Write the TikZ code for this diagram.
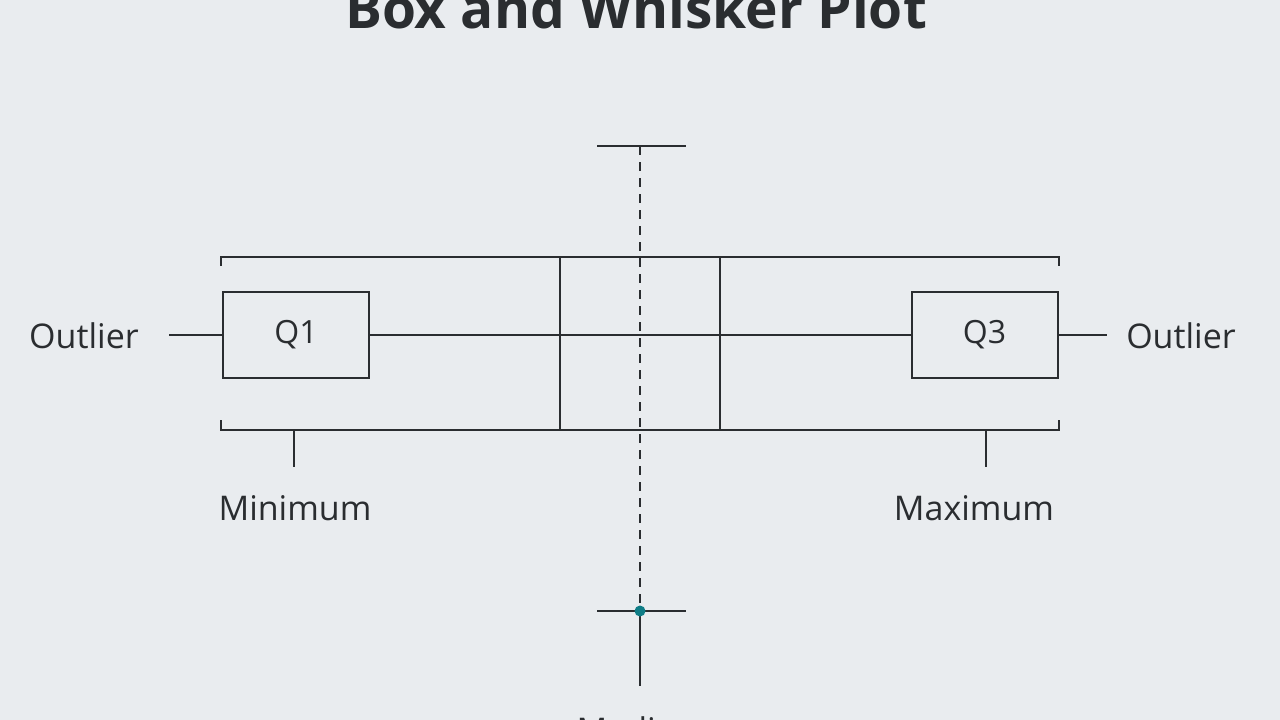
\documentclass[tikz,border=0pt]{standalone}
\usepackage{fontspec}
\setmainfont{Open Sans}
\definecolor{bg}{HTML}{E9ECEF}
\definecolor{ink}{HTML}{2A2D30}
\definecolor{teal}{HTML}{0E7C86}
\begin{document}
\begin{tikzpicture}[x=1pt,y=-1pt,
  ln/.style={draw=ink,line width=1.6pt},
  qbox/.style={draw=ink,line width=2pt,minimum width=146pt,minimum height=86pt,inner sep=0pt,font=\fontsize{32}{38}\selectfont,text=ink},
  lbl/.style={font=\fontsize{34}{40}\selectfont,text=ink,inner sep=0pt}]
\fill[bg] (0,0) rectangle (1280,720);
\useasboundingbox (0,0) rectangle (1280,720);
\node[font=\bfseries\fontsize{55}{66}\selectfont,text=ink,anchor=base,inner sep=0pt] (title) at (636,28) {Box and Whisker Plot};
% brackets
\draw[ln] (221,266) -- (221,257) -- (1059,257) -- (1059,266);
\draw[ln] (221,420) -- (221,430) -- (1059,430) -- (1059,420);
\draw[ln] (560,257) -- (560,430);
\draw[ln] (720,257) -- (720,430);
% boxes
\node[qbox] (q1) at (296,335) {Q1};
\node[qbox] (q3) at (984.5,335) {Q3};
\node[lbl] (ol) at (84,336) {Outlier};
\node[lbl] (or) at (1181,336) {Outlier};
\coordinate (l0) at (169,335);
\coordinate (r0) at (1107,335);
\draw[ln] (l0) -- (q1.west);
\draw[ln] (q1.east) -- (q3.west);
\draw[ln] (q3.east) -- (r0);
% dashed median line
\coordinate (mt) at (640,146);
\coordinate (mb) at (640,611);
\draw[ink,line width=1.3pt,dash pattern=on 9pt off 7pt] (mt) -- (mb);
\draw[ln] (597,146) -- (686,146);
\draw[ln] (597,611) -- (686,611);
\draw[ln] (mb) -- (640,686);
\fill[teal] (mb) circle (5.5pt);
% min max ticks
\draw[ln] (294,430) -- (294,467);
\draw[ln] (986,430) -- (986,467);
\node[lbl] (mn) at (295,508) {Minimum};
\node[lbl] (mx) at (974,508) {Maximum};
\node[lbl,anchor=north] (med) at (636,716) {Median};
\end{tikzpicture}
\end{document}
